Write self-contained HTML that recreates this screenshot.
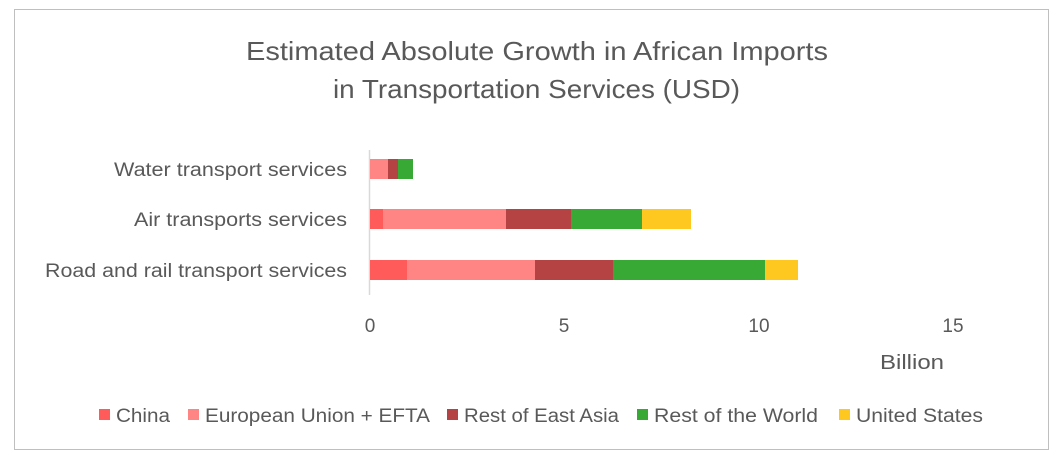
<!DOCTYPE html>
<html><head><style>body{margin:0;background:#fff}svg{display:block}</style></head><body>
<svg width="1064" height="462" xmlns="http://www.w3.org/2000/svg" font-family="Liberation Sans, sans-serif" fill="#595959">
<rect x="14.5" y="9.5" width="1034" height="440" fill="#fff" stroke="#bfbfbf"/>
<text x="246" y="60" font-size="26" textLength="582" lengthAdjust="spacingAndGlyphs">Estimated Absolute Growth in African Imports</text>
<text x="333" y="98" font-size="26" textLength="407" lengthAdjust="spacingAndGlyphs">in Transportation Services (USD)</text>
<line x1="369.5" y1="150" x2="369.5" y2="295" stroke="#d9d9d9" stroke-width="1.5"/>
<g font-size="19">
<text x="114" y="176" textLength="233" lengthAdjust="spacingAndGlyphs">Water transport services</text>
<text x="134" y="226" textLength="213" lengthAdjust="spacingAndGlyphs">Air transports services</text>
<text x="45" y="277" textLength="302" lengthAdjust="spacingAndGlyphs">Road and rail transport services</text>
</g>
<rect x="370" y="159" width="18" height="20" fill="#ff8585"/>
<rect x="388" y="159" width="10" height="20" fill="#b54344"/>
<rect x="398" y="159" width="15" height="20" fill="#38a934"/>
<rect x="370" y="209" width="13" height="20" fill="#ff5b5b"/>
<rect x="383" y="209" width="123" height="20" fill="#ff8585"/>
<rect x="506" y="209" width="65" height="20" fill="#b54344"/>
<rect x="571" y="209" width="71" height="20" fill="#38a934"/>
<rect x="642" y="209" width="49" height="20" fill="#ffc820"/>
<rect x="370" y="260" width="37" height="20" fill="#ff5b5b"/>
<rect x="407" y="260" width="128" height="20" fill="#ff8585"/>
<rect x="535" y="260" width="78" height="20" fill="#b54344"/>
<rect x="613" y="260" width="152" height="20" fill="#38a934"/>
<rect x="765" y="260" width="33" height="20" fill="#ffc820"/>
<g font-size="19" text-anchor="middle">
<text x="370" y="332">0</text><text x="564" y="332">5</text><text x="759" y="332">10</text><text x="953" y="332">15</text>
</g>
<text x="880" y="369" font-size="20" textLength="64" lengthAdjust="spacingAndGlyphs">Billion</text>
<g font-size="19">
<rect x="99" y="409" width="11" height="11" fill="#ff5b5b"/><text x="116" y="422" textLength="54" lengthAdjust="spacingAndGlyphs">China</text>
<rect x="188" y="409" width="11" height="11" fill="#ff8585"/><text x="205" y="422" textLength="225" lengthAdjust="spacingAndGlyphs">European Union + EFTA</text>
<rect x="447" y="409" width="11" height="11" fill="#b54344"/><text x="464" y="422" textLength="155" lengthAdjust="spacingAndGlyphs">Rest of East Asia</text>
<rect x="637" y="409" width="11" height="11" fill="#38a934"/><text x="654" y="422" textLength="164" lengthAdjust="spacingAndGlyphs">Rest of the World</text>
<rect x="839" y="409" width="11" height="11" fill="#ffc820"/><text x="856" y="422" textLength="127" lengthAdjust="spacingAndGlyphs">United States</text>
</g>
</svg>
</body></html>
